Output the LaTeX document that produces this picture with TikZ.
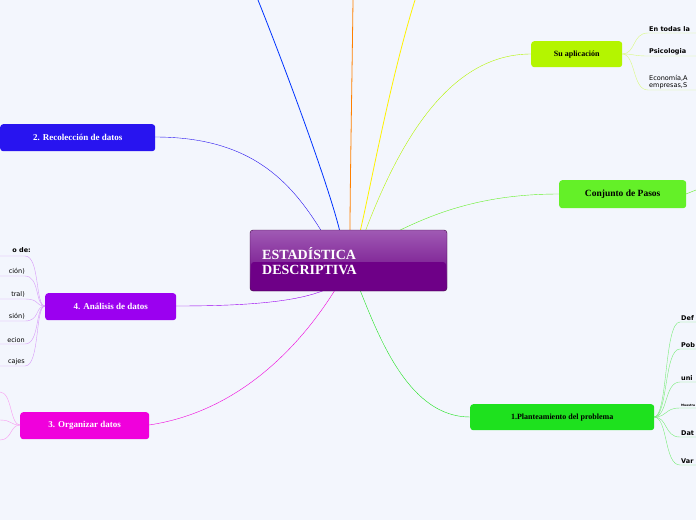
\documentclass[tikz,border=0pt]{standalone}
\usepackage{fontspec}
\setmainfont{Liberation Serif}
\newfontfamily\leaf{DejaVu Sans}
\definecolor{bgc}{RGB}{243,246,253}
\definecolor{ctop}{RGB}{160,90,180}
\definecolor{cbot}{RGB}{105,0,130}
\definecolor{cdark}{RGB}{110,0,135}
\definecolor{crec}{RGB}{40,20,240}
\definecolor{cana}{RGB}{155,0,240}
\definecolor{corg}{RGB}{240,0,220}
\definecolor{capl}{RGB}{180,245,0}
\definecolor{cpas}{RGB}{100,240,40}
\definecolor{cpla}{RGB}{30,225,30}
\begin{document}
\begin{tikzpicture}[x=1pt,y=-1pt,
 main/.style={rounded corners=3pt,text=white,font=\bfseries\fontsize{9}{10}\selectfont,inner sep=0pt,anchor=north west},
 lf/.style={font=\leaf\fontsize{6.5}{7}\selectfont,anchor=south west,inner sep=1pt,align=left},
 lfb/.style={lf,font=\leaf\bfseries\fontsize{6.5}{7}\selectfont}]
\fill[bgc] (0,0) rectangle (696,520);
\useasboundingbox (0,0) rectangle (696,520);
% top lines
\draw[thick,blue!80!cyan] (258,0) .. controls (290,80) and (330,190) .. (340,232);
\draw[thick,orange] (353,0) .. controls (352,80) and (350,190) .. (350,232);
\draw[thick,yellow] (415,0) .. controls (390,80) and (370,190) .. (360,232);
% connectors
\draw[crec] (155,137) .. controls (250,137) and (290,180) .. (322,232);
\draw[cana] (176,306) .. controls (260,306) and (300,300) .. (325,290);
\draw[corg] (149,425) .. controls (250,410) and (310,330) .. (335,290);
\draw[capl] (531,54) .. controls (450,54) and (400,140) .. (365,232);
\draw[cpas] (559,194) .. controls (470,194) and (420,220) .. (380,240);
\draw[cpla] (470,417) .. controls (410,417) and (380,340) .. (360,290);
% central node
\shade[top color=ctop,bottom color=cbot,rounded corners=3pt,draw=violet!50!black] (250,230) rectangle (447,291);
\fill[rounded corners=3pt,cdark] (251,262) rectangle (446,290);
\node[anchor=west,text=white,font=\bfseries\fontsize{14}{15}\selectfont,align=left,inner sep=0] (ce) at (262,261) {ESTADÍSTICA\\DESCRIPTIVA};
% main nodes
\node[main,fill=crec,minimum width=155,minimum height=27] (rec) at (0,124) {2. Recolección de datos};
\node[main,fill=cana,minimum width=131,minimum height=27] (ana) at (45,293) {4. Análisis de datos};
\node[main,fill=corg,minimum width=129,minimum height=27] (org) at (20,412) {3. Organizar datos};
\node[main,text=black,fill=capl,minimum width=91,minimum height=26,font=\bfseries\fontsize{8}{9}\selectfont] (apl) at (531,41) {Su aplicación};
\node[main,text=black,fill=cpas,minimum width=127,minimum height=28,font=\bfseries\fontsize{9.5}{10}\selectfont] (pas) at (559,180) {Conjunto de Pasos};
\node[main,text=black,fill=cpla,minimum width=184,minimum height=26,font=\bfseries\fontsize{8}{9}\selectfont] (pla) at (470,404) {1.Planteamiento del problema};
% Su aplicacion leaves
\foreach \y/\t/\s in {33/En todas la/lfb,56/Psicologia/lfb,90/{Economía,A\\empresas,S}/lf}{
 \draw[capl!50!white] (622,54) .. controls (636,54) and (632,\y) .. (648,\y) -- (696,\y);
 \node[\s] at (648,\y) {\t};}
\draw[cpas] (686,194) -- (696,190);
% planteamiento leaves
\foreach \y/\t in {322/Def,349/Pob,382/uni,437/Dat,465/Var}{
 \draw[cpla!60!white] (654,417) .. controls (668,417) and (664,\y) .. (680,\y) -- (696,\y);
 \node[lfb] at (680,\y) {\t};}
\draw[cpla!60!white] (654,417) .. controls (668,417) and (664,408) .. (680,408) -- (696,408);
\node[lfb,font=\leaf\bfseries\fontsize{3}{3}\selectfont] at (680,408) {Muestra};
% analisis leaves
\foreach \y/\t in {276/ción),299/tral),321/sión),344/ecion,366/cajes}{
 \draw[cana!40!white] (45,306) .. controls (35,306) and (40,\y) .. (25,\y) -- (0,\y);
 \node[lf,anchor=south east] at (26,\y) {\t};}
\draw[cana!40!white] (45,306) .. controls (35,306) and (40,256) .. (25,256) -- (0,256);
\node[lfb,anchor=south east] at (32,254) {o de:};
% organizar leaves
\foreach \y in {392,420,440}{
 \draw[corg!40!white] (20,425) .. controls (10,425) and (12,\y) .. (0,\y);}
\end{tikzpicture}
\end{document}
